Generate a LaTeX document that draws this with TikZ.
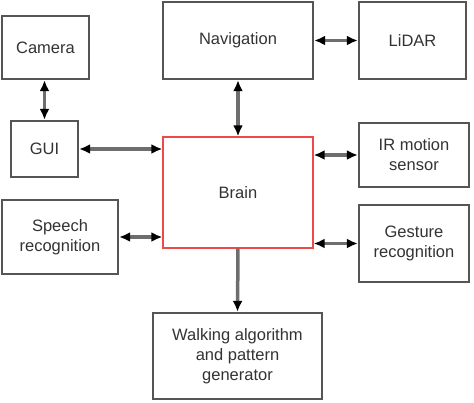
\documentclass[tikz,border=0pt]{standalone}
\usepackage{fontspec}
\setmainfont{Liberation Sans}
\usepackage{tikz}
\usetikzlibrary{arrows.meta,calc}
\definecolor{boxLine}{HTML}{555555}
\definecolor{linkLine}{HTML}{6E6E6E}
\definecolor{brainRed}{HTML}{EE4A4A}
\definecolor{labelText}{HTML}{333333}

\begin{document}
\begin{tikzpicture}[
    x=1pt, y=-1pt,
    every node/.style = {font=\fontsize{16.5}{20}\selectfont, align=center,
                         text=labelText, inner sep=0pt},
    block/.style      = {draw=boxLine, line width=2.3pt, fill=white},
    core/.style       = {draw=brainRed, line width=1.3pt, fill=white},
    link/.style       = {{Latex[length=11pt,width=10pt,black]}-{Latex[length=11pt,width=10pt,black]},
                         draw=linkLine, line width=3.5pt},
    feed/.style       = {-{Latex[length=11pt,width=10pt,black]},
                         draw=linkLine, line width=3.5pt},
  ]
  \useasboundingbox (0,0) rectangle (474,402);

  %% Top row
  \node[block, minimum width=87pt,  minimum height=63pt] (camera) at ( 45.5, 47.5) {Camera};
  \node[block, minimum width=150pt, minimum height=77pt] (nav)    at (238,   40.5) {Navigation};
  \node[block, minimum width=107pt, minimum height=77pt] (lidar)  at (412.5, 40.5) {LiDAR};

  %% Middle rows
  \node[block, minimum width=67pt,  minimum height=56pt] (gui)     at ( 44.5,149)   {GUI};
  \node[core,  minimum width=150pt, minimum height=111pt] (brain)  at (238,  192.5) {Brain};
  \node[block, minimum width=110pt, minimum height=64pt] (ir)      at (414,  155)   {IR motion\\sensor};
  \node[block, minimum width=116pt, minimum height=74pt] (speech)  at ( 60,  237)   {Speech\\recognition};
  \node[block, minimum width=110pt, minimum height=77pt] (gesture) at (414,  243.5) {Gesture\\recognition};

  %% Bottom row
  \node[block, minimum width=169pt, minimum height=86pt] (walking) at (237.5,356)
    {Walking algorithm\\and pattern\\generator};

  %% Connections
  \draw[link] (camera.south -| gui.north) -- (gui.north);
  \draw[link] (nav.east) -- (lidar.west);
  \draw[link] (nav.south) -- (brain.north);
  \draw[link] (gui.east) -- (gui.east -| brain.west);
  \draw[link] (speech.east) -- (speech.east -| brain.west);
  \draw[link] (brain.east |- ir.west) -- (ir.west);
  \draw[link] (brain.east |- gesture.west) -- (gesture.west);
  \draw[feed] (brain.south) -- (walking.north);

\end{tikzpicture}
\end{document}
